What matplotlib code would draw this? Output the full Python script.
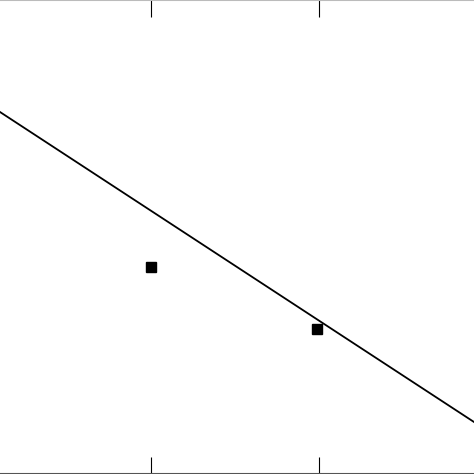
import matplotlib
matplotlib.use("Agg")
import matplotlib.pyplot as plt

line_x = [0.101, 2.923]
line_y = [362, 52]
pts_x = [1.0, 1.988]
pts_y = [207, 145]
xticks = [1, 2]

fig = plt.figure(figsize=(4.74, 4.74), dpi=100)
ax = fig.add_axes([0, 0, 1, 1])
ax.plot(line_x, line_y, color="black", lw=1.3)
ax.plot(pts_x, pts_y, "s", color="black", ms=7)
ax.set_xlim(0.101, 2.923)
ax.set_ylim(0, 474)
ax.set_xticks(xticks)
ax.set_yticks([])
ax.tick_params(axis="x", direction="in", top=True, bottom=True, length=12, labelbottom=False)
ax.spines["left"].set_visible(False)
ax.spines["right"].set_visible(False)
ax.spines["top"].set_color("#bbbbbb")
ax.spines["bottom"].set_color("#555555")
ax.spines["top"].set_linewidth(1.5)
ax.spines["bottom"].set_linewidth(1.5)
fig.savefig("out.png", dpi=100)
